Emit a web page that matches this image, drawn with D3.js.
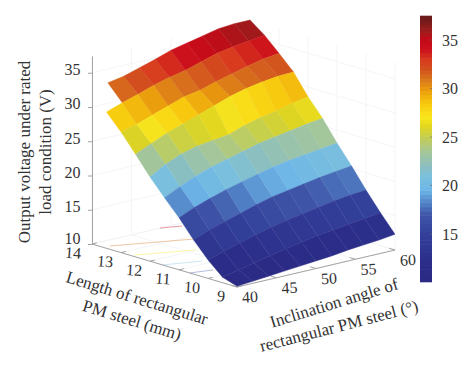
<!DOCTYPE html>
<html>
<head>
<meta charset="utf-8">
<script src="https://cdnjs.cloudflare.com/ajax/libs/d3/7.8.5/d3.min.js"></script>
<style>
  html, body { margin: 0; padding: 0; background: #fff; }
  text { font-family: "Liberation Serif", serif; fill: #333; }
</style>
</head>
<body>
<div id="chart"></div>
<script>
const angles = [40, 42, 44, 46, 48, 50, 52, 54, 56, 58, 60]
const lengths = [14, 13.5, 13, 12.5, 12, 11.5, 11, 10.5, 10, 9.5, 9]
// one row per length, one column per angle (first corner was never drawn in the source)
const voltage = [
  [null, 33.0, 33.4, 34.1, 34.8, 35.6, 36.1, 36.6, 37.1, 37.3, 37.3],
  [29.9, 30.7, 31.4, 32.2, 32.8, 33.3, 34.0, 34.7, 35.1, 35.4, 35.7],
  [27.6, 28.2, 29.0, 29.8, 30.6, 31.0, 31.7, 32.3, 32.9, 33.4, 33.7],
  [25.0, 26.0, 27.0, 27.8, 28.6, 29.4, 30.2, 30.8, 31.2, 31.5, 31.6],
  [22.3, 23.6, 24.6, 25.2, 25.5, 25.8, 26.6, 27.2, 27.6, 28.2, 28.6],
  [19.9, 21.0, 22.0, 22.8, 23.4, 24.0, 24.6, 25.0, 25.4, 25.8, 26.1],
  [17.6, 18.6, 19.4, 20.1, 20.7, 21.3, 21.8, 22.2, 22.5, 22.8, 23.1],
  [15.0, 15.9, 16.6, 17.3, 18.0, 18.6, 19.0, 19.4, 19.8, 20.1, 20.4],
  [12.7, 13.4, 14.1, 14.7, 15.3, 15.8, 16.2, 16.6, 17.0, 17.3, 17.5],
  [10.8, 11.3, 11.8, 12.3, 12.8, 13.2, 13.6, 13.9, 14.2, 14.5, 14.8],
  [10.1, 10.3, 10.5, 10.7, 10.9, 11.1, 11.3, 11.6, 11.8, 12.0, 12.3],
]
// faint contour lines on the floor: [angle, length] ends and their level
const floorLevels = [34, 31, 27, 21, 17]
const floorLines = [
  [[48.6, 14], [50.7, 13.8]],
  [[40.8, 13.6], [48.5, 12.76]],
  [[40.4, 12.63], [45.9, 12.04]],
  [[40, 11.56], [43.7, 11.22]],
  [[40, 10.63], [42.4, 10.47]],
]
const angleTicks = [40, 45, 50, 55, 60]
const lengthTicks = [14, 13, 12, 11, 10, 9]
const voltageTicks = [10, 15, 20, 25, 30, 35]
const barTicks = [15, 20, 25, 30, 35]
const colorStops = [10.2, 12, 15, 17, 18, 19.5, 21, 22, 23.5, 25, 26, 27, 28.5, 30, 31, 32, 33, 34, 35, 36, 37.3]
const colorValues = ['#2b2a85', '#2b2d88', '#33409a', '#3f56a8', '#4f7cc2', '#6db6e8', '#7cc0dc', '#8cbfbf',
  '#a5c698', '#c4cf50', '#dfd520', '#fae61c', '#f7c80e', '#e8960e', '#d8741c', '#d2501e', '#d83a1e',
  '#cc0f1c', '#c40a18', '#9a1c1c', '#6a1a1a']

const width = 474
const height = 366

const color = d3.scaleLinear().domain(colorStops).range(colorValues).clamp(true)

// oblique projection, each data axis adds its own screen offset
const ax = d3.scaleLinear().domain([40, 60]).range([0, 158])
const ay = d3.scaleLinear().domain([40, 60]).range([0, -37])
const lx = d3.scaleLinear().domain([14, 9]).range([92, 237])
const ly = d3.scaleLinear().domain([14, 9]).range([244, 287])
const zy = d3.scaleLinear().domain([10, 35]).range([0, -171.25])
const project = (a, l, z) => [ax(a) + lx(l), ay(a) + ly(l) + zy(z)]
const line = d3.line()

const svg = d3.select('#chart').append('svg')
  .attr('width', width)
  .attr('height', height)

// box walls
const grid = svg.append('g').attr('fill', 'none').attr('stroke', '#f1f2f5').attr('stroke-width', 0.8)
const zTop = 37.45
voltageTicks.forEach((z) => {
  grid.append('path').attr('d', line([project(40, 14, z), project(60, 14, z), project(60, 9, z)]))
})
angleTicks.forEach((a) => {
  grid.append('path').attr('d', line([project(a, 14, 10), project(a, 14, zTop)]))
  grid.append('path').attr('d', line([project(a, 14, 10), project(a, 9, 10)]))
})
lengthTicks.forEach((l) => {
  grid.append('path').attr('d', line([project(60, l, 10), project(60, l, zTop)]))
  grid.append('path').attr('d', line([project(40, l, 10), project(60, l, 10)]))
})

svg.append('g').selectAll('path')
  .data(floorLines)
  .join('path')
  .attr('d', (d) => line(d.map((p) => project(p[0], p[1], 10))))
  .attr('fill', 'none')
  .attr('stroke', (d, i) => color(floorLevels[i]))
  .attr('stroke-opacity', 0.5)
  .attr('stroke-width', 0.8)

// floor axes
const axisColor = '#a3a3a3'
const axes = svg.append('g').attr('fill', 'none').attr('stroke', axisColor).attr('stroke-width', 1)
axes.append('path').attr('d', line([project(40, 14, 10), project(40, 9, 10), project(60, 9, 10)]))
lengthTicks.forEach((l) => {
  axes.append('path').attr('d', line([project(40, l, 10), project(40.6, l, 10)]))
})
angleTicks.forEach((a) => {
  axes.append('path').attr('d', line([project(a, 9, 10), project(a, 9.2, 10)]))
})

// surface, back rows first so the front ones paint over them
const cells = []
for (let j = 0; j < lengths.length - 1; j++) {
  for (let i = 0; i < angles.length - 1; i++) {
    if (voltage[j][i] === null) continue
    const lower = (voltage[j + 1][i] + voltage[j + 1][i + 1]) / 2
    const upper = (voltage[j][i] + voltage[j][i + 1]) / 2
    cells.push({
      corners: [
        project(angles[i], lengths[j], voltage[j][i]),
        project(angles[i + 1], lengths[j], voltage[j][i + 1]),
        project(angles[i + 1], lengths[j + 1], voltage[j + 1][i + 1]),
        project(angles[i], lengths[j + 1], voltage[j + 1][i]),
      ],
      value: lower + 0.15 * (upper - lower),
    })
  }
}
svg.append('g').selectAll('path')
  .data(cells)
  .join('path')
  .attr('d', (d) => line(d.corners) + 'Z')
  .attr('fill', (d) => color(d.value))
  .attr('stroke', (d) => color(d.value))
  .attr('stroke-width', 0.4)

// vertical axis
const zAxisScale = d3.scaleLinear().domain([10, zTop]).range([244, 244 + zy(zTop)])
const zAxis = svg.append('g')
  .attr('transform', 'translate(92,0)')
  .call(d3.axisLeft(zAxisScale).tickValues(voltageTicks).tickSize(4).tickSizeOuter(0).tickFormat(''))
zAxis.selectAll('path, line').attr('stroke', axisColor)

const labels = svg.append('g').attr('font-size', 16)
voltageTicks.forEach((z) => {
  labels.append('text')
    .attr('x', 80.5).attr('y', 244 + zy(z) + (z === 10 ? -5 : -3))
    .attr('dy', '0.33em')
    .attr('text-anchor', 'end')
    .text(z)
})
lengthTicks.forEach((l) => {
  const p = project(40, l, 10)
  const x = l === 14 ? p[0] - 19 : p[0] - 16
  labels.append('text')
    .attr('transform', `translate(${x},${p[1] + 9}) rotate(4)`)
    .attr('dy', '0.33em')
    .attr('text-anchor', 'middle')
    .text(l)
})
angleTicks.forEach((a) => {
  const p = project(a, 9, 10)
  labels.append('text')
    .attr('transform', `translate(${p[0] + 13},${p[1] + 10}) rotate(-3)`)
    .attr('dy', '0.33em')
    .attr('text-anchor', 'middle')
    .text(a)
})

const axisLabel = (x, y, rot, txt) => {
  labels.append('text')
    .attr('transform', `translate(${x},${y}) rotate(${rot})`)
    .attr('dy', '0.33em')
    .attr('text-anchor', 'middle')
    .attr('font-size', 17)
    .text(txt)
}
axisLabel(24, 152, -90, 'Output voltage under rated')
axisLabel(45, 152, -90, 'load condition (V)')
axisLabel(137, 298, 17, 'Length of rectangular')
axisLabel(132, 320, 17, 'PM steel (mm)')
axisLabel(334, 303, -17, 'Inclination angle of')
axisLabel(339, 326, -14.5, 'rectangular PM steel (°)')

// colorbar
const barScale = d3.scaleLinear().domain([15, 35]).range([234, 40])
const barValues = d3.range(64).map((i) => barScale.invert(282 - (i * 266) / 64))
svg.append('g').selectAll('rect')
  .data(barValues)
  .join('rect')
  .attr('x', 420)
  .attr('y', (d) => barScale(d) - 266 / 64 - 0.3)
  .attr('width', 12)
  .attr('height', 266 / 64 + 0.6)
  .attr('fill', (d) => color(d + 0.2))
const barAxis = svg.append('g')
  .attr('transform', 'translate(432,0)')
  .call(d3.axisRight(barScale).tickValues(barTicks).tickSize(0).tickPadding(10))
barAxis.select('.domain').remove()
barAxis.selectAll('text')
  .attr('font-family', '"Liberation Serif", serif')
  .attr('font-size', 16)
  .attr('fill', '#333')
svg.append('g').selectAll('line')
  .data(barTicks)
  .join('line')
  .attr('x1', 430).attr('x2', 432)
  .attr('y1', (d) => barScale(d)).attr('y2', (d) => barScale(d))
  .attr('stroke', '#666')
  .attr('stroke-width', 0.6)
</script>
</body>
</html>
